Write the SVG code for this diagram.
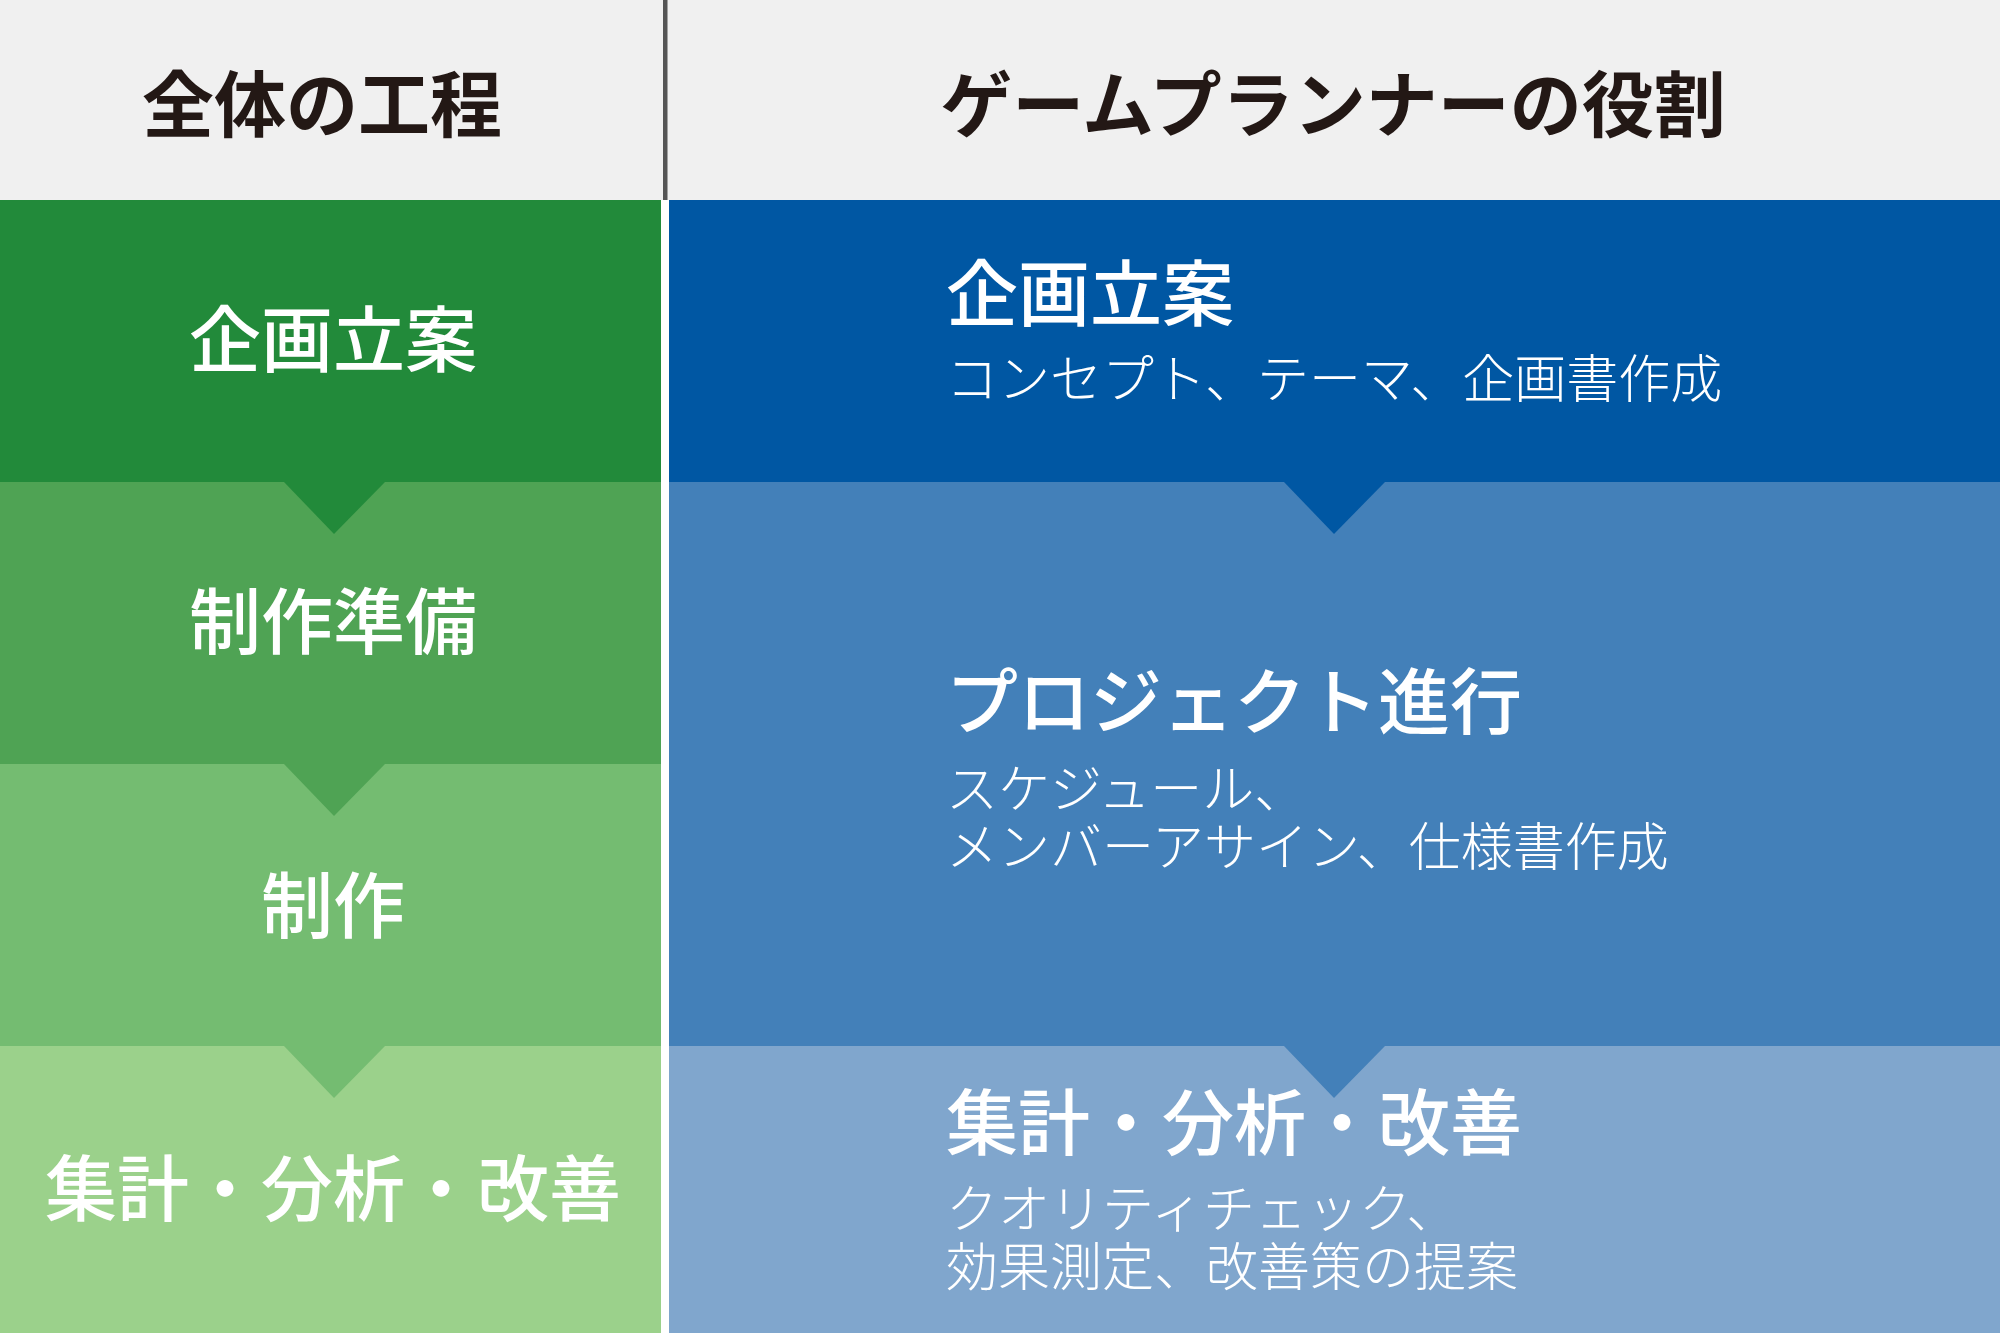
<svg xmlns="http://www.w3.org/2000/svg" width="2000" height="1333" viewBox="0 0 2000 1333">
<style>
text{font-family:"Noto Sans CJK JP","Noto Sans CJK SC",sans-serif;}
.hd{font-size:72px;font-weight:700;fill:#231815;text-anchor:middle;}
.lt{font-size:72px;font-weight:500;fill:#ffffff;text-anchor:middle;}
.rt{font-size:72px;font-weight:500;fill:#ffffff;}
.rs{font-size:52px;font-weight:300;fill:#ffffff;}
</style>
<rect x="0" y="0" width="2000" height="1333" fill="#ffffff"/>
<g id="header">
<rect x="0" y="0" width="2000" height="200" fill="#f0f0f0"/>
<rect x="663" y="0" width="4.5" height="200" fill="#555555"/>
<text class="hd" x="322" y="131">全体の工程</text>
<text class="hd" x="1333" y="131">ゲームプランナーの役割</text>
</g>
<g id="step1">
<rect x="0" y="200" width="661" height="282" fill="#228a3a"/>
<text class="lt" x="333" y="366">企画立案</text>
</g>
<g id="step2">
<rect x="0" y="482" width="661" height="282" fill="#4fa354"/>
<text class="lt" x="333" y="648">制作準備</text>
</g>
<g id="step3">
<rect x="0" y="764" width="661" height="282" fill="#74bc71"/>
<text class="lt" x="333" y="932">制作</text>
</g>
<g id="step4">
<rect x="0" y="1046" width="661" height="287" fill="#9bd18b"/>
<text class="lt" x="333" y="1215">集計・分析・改善</text>
</g>
<g id="role1">
<rect x="669" y="200" width="1331" height="282" fill="#0057a3"/>
<text class="rt" x="946" y="320">企画立案</text>
<text class="rs" x="946" y="398">コンセプト、テーマ、企画書作成</text>
</g>
<g id="role2">
<rect x="669" y="482" width="1331" height="564" fill="#4380b9"/>
<text class="rt" x="946" y="728">プロジェクト進行</text>
<text class="rs" x="946" y="808">スケジュール、</text>
<text class="rs" x="946" y="866">メンバーアサイン、仕様書作成</text>
</g>
<g id="role3">
<rect x="669" y="1046" width="1331" height="287" fill="#80a6cd"/>
<text class="rt" x="946" y="1149">集計・分析・改善</text>
<text class="rs" x="946" y="1228">クオリティチェック、</text>
<text class="rs" x="946" y="1286">効果測定、改善策の提案</text>
</g>
<g id="connectors">
<polygon points="284,482 385,482 334,534" fill="#228a3a"/>
<polygon points="284,764 385,764 334,816" fill="#4fa354"/>
<polygon points="284,1046 385,1046 334,1098" fill="#74bc71"/>
<polygon points="1284,482 1385,482 1334,534" fill="#0057a3"/>
<polygon points="1284,1046 1385,1046 1334,1098" fill="#4380b9"/>
</g>
</svg>
